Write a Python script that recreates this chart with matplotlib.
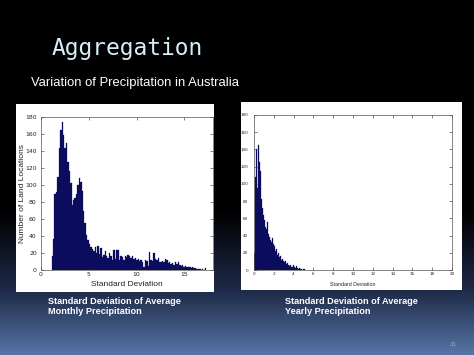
import numpy as np
import matplotlib
matplotlib.use("Agg")
import matplotlib.pyplot as plt
from matplotlib.patches import Rectangle

# ---------------- data ----------------
title = "Aggregation"
subtitle = "Variation of Precipitation in Australia"
caption_left = "Standard Deviation of Average\nMonthly Precipitation"
caption_right = "Standard Deviation of Average\nYearly Precipitation"
page_number = "31"

# Left histogram: monthly precipitation std-dev
monthly_start = 1.1
monthly_width = 0.15
monthly_counts = [16, 37, 90, 92, 110, 143, 165, 174, 159, 143, 149, 127, 116, 102,
                  76, 82, 85, 90, 100, 108, 104, 93, 70, 55, 41, 35, 31, 27,
                  25, 22, 27, 20, 28, 19, 26, 15,
                  18, 22, 16, 14, 20, 17, 12, 23,
                  13, 23, 23, 12, 16, 15, 12, 17,
                  15, 18, 17, 14, 16, 13, 14, 12,
                  13, 11, 12, 10, 4, 12, 11, 5,
                  21, 12, 11, 20, 13, 12, 14, 10,
                  10, 11, 9, 13, 12, 8, 9, 7,
                  8, 6, 9, 7, 9, 6, 5, 6,
                  4, 5, 4, 3, 4, 2, 3, 2,
                  2, 1, 1, 1, 0, 1, 0, 2]
monthly_xticks = [0, 5, 10, 15]
monthly_yticks = [0, 20, 40, 60, 80, 100, 120, 140, 160, 180]

# Right histogram: yearly precipitation std-dev
yearly_start = 0.0
yearly_width = 0.1
yearly_counts = [20, 108, 140, 95, 145, 125, 115, 82, 72, 64, 58, 50, 48, 56, 42, 38,
                 35, 33, 37, 30, 28, 22, 24, 18, 20, 15, 16, 12, 13, 10, 9, 11, 7, 8,
                 6, 5, 6, 4, 3, 6, 3, 2, 5, 2, 1, 2, 1, 1, 0, 1, 0, 1]
yearly_xticks = [0, 2, 4, 6, 8, 10, 12, 14, 16, 18, 20]
yearly_yticks = [0, 20, 40, 60, 80, 100, 120, 140, 160, 180]

xlabel = "Standard Deviation"
ylabel = "Number of Land Locations"

# ---------------- figure ----------------
W, H = 474, 355
fig = plt.figure(figsize=(W / 100, H / 100), dpi=100)

def fx(px):
    return px / W

def fy(py):
    return 1 - py / H

# background gradient
bg = fig.add_axes([0, 0, 1, 1], zorder=-10)
cols = np.zeros((H, 3))
for r in range(H):
    if r < 210:
        c = np.array([0, 0, 0])
    elif r < 290:
        t = (r - 210) / 80
        c = np.array([30, 42, 72]) * t
    else:
        t = (r - 290) / 65
        c = np.array([30, 42, 72]) * (1 - t) + np.array([88, 118, 168]) * t
    cols[r] = c / 255
img = np.repeat(cols[:, None, :], 2, axis=1)
bg.imshow(img, aspect="auto", extent=[0, 1, 0, 1], interpolation="bilinear")
bg.set_axis_off()

# white panels
fig.patches.append(Rectangle((fx(16), fy(292)), fx(198), 188 / H,
                             transform=fig.transFigure, facecolor="white",
                             edgecolor="none", zorder=-5))
fig.patches.append(Rectangle((fx(241), fy(290)), fx(221), 188 / H,
                             transform=fig.transFigure, facecolor="white",
                             edgecolor="none", zorder=-5))

# texts
fig.text(fx(52), fy(55), title, family="DejaVu Sans Mono", fontsize=16.5,
         color="#d8eef8", va="baseline", ha="left")
fig.text(fx(31), fy(86), subtitle, family="Liberation Sans", fontsize=9.4,
         color="white", va="baseline", ha="left")
fig.text(fx(48), fy(306.5), caption_left, family="Liberation Sans", fontsize=6.6,
         fontweight="bold", color="white", va="center", ha="left", linespacing=1.25)
fig.text(fx(285), fy(306.5), caption_right, family="Liberation Sans", fontsize=6.6,
         fontweight="bold", color="white", va="center", ha="left", linespacing=1.25)
fig.text(fx(453), fy(344), page_number, family="DejaVu Serif", fontsize=4,
         color="#b0b8c8", va="center", ha="center")

bar_color = "#0c0c5e"

def style(ax, xt, yt, fs, ypad, xpad):
    ax.set_xticks(xt)
    ax.set_yticks(yt)
    ax.tick_params(direction="in", top=True, right=True, labelsize=fs,
                   length=2, width=0.4, colors="#222222")
    ax.tick_params(axis="y", pad=ypad)
    ax.tick_params(axis="x", pad=xpad)
    for s in ax.spines.values():
        s.set_linewidth(0.5)
        s.set_color("#555555")
    ax.set_facecolor("white")

# left
ax1 = fig.add_axes([fx(41), fy(270), fx(172), 153 / H])
centers1 = monthly_start + monthly_width * (np.arange(len(monthly_counts)) + 0.5)
ax1.bar(centers1, monthly_counts, width=monthly_width, color=bar_color,
        edgecolor=bar_color, linewidth=0.2)
ax1.set_xlim(0, 18)
ax1.set_ylim(0, 180)
style(ax1, monthly_xticks, monthly_yticks, 4.4, 3, 1.5)
ax1.set_xlabel(xlabel, family="Liberation Sans", fontsize=6, labelpad=2.5, color="#222222")
ax1.set_ylabel(ylabel, family="Liberation Sans", fontsize=6, color="#222222")
ax1.yaxis.set_label_coords(-0.09, 0.5)

# right
ax2 = fig.add_axes([fx(254), fy(270), fx(198), 155 / H])
centers2 = yearly_start + yearly_width * (np.arange(len(yearly_counts)) + 0.5)
ax2.bar(centers2, yearly_counts, width=yearly_width, color=bar_color,
        edgecolor=bar_color, linewidth=0.2)
ax2.set_xlim(0, 20)
ax2.set_ylim(0, 180)
style(ax2, yearly_xticks, yearly_yticks, 3, 4, 1.5)
ax2.set_xlabel(xlabel, family="Liberation Sans", fontsize=3.8, labelpad=4, color="#222222")

fig.savefig("out.png", dpi=100)
